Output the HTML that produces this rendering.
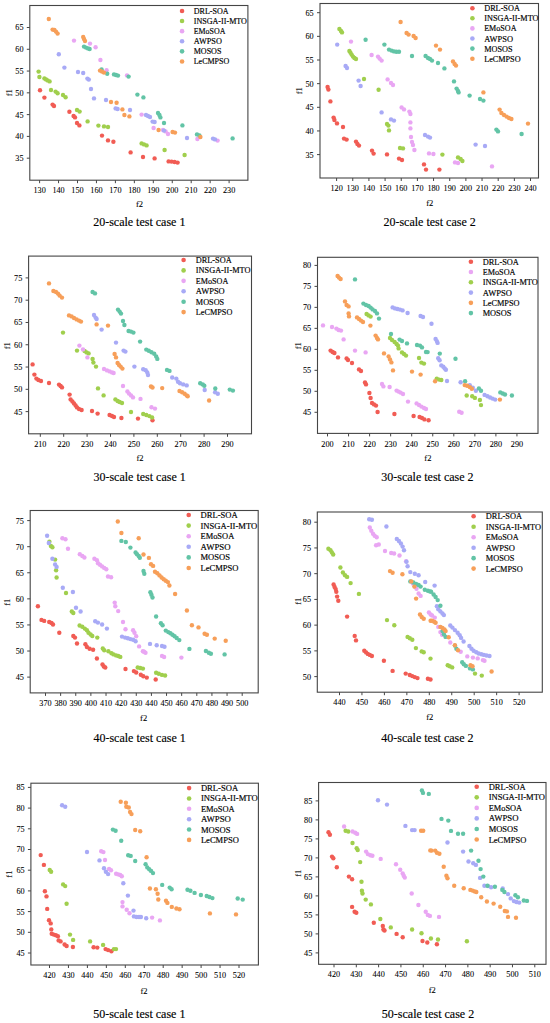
<!DOCTYPE html>
<html><head><meta charset="utf-8"><style>
html,body{margin:0;padding:0;background:#fff;}
svg{display:block;}
text{font-family:"Liberation Serif",serif;fill:#000;stroke:#000;stroke-width:0.08px;}
.lg{stroke-width:0.18px;}
.tt{stroke-width:0.15px;}
</style></head><body>
<svg width="550" height="1023" viewBox="0 0 550 1023">
<rect width="550" height="1023" fill="#fff"/>
<g><g fill="#F15C54"><circle cx="40" cy="90.2" r="2.2"/><circle cx="44.4" cy="97.6" r="2.2"/><circle cx="52.6" cy="104.6" r="2.2"/><circle cx="54" cy="106" r="2.2"/><circle cx="69.4" cy="111.8" r="2.2"/><circle cx="73.6" cy="116" r="2.2"/><circle cx="75" cy="117.4" r="2.2"/><circle cx="77" cy="123" r="2.2"/><circle cx="79.4" cy="125.4" r="2.2"/><circle cx="102" cy="135.6" r="2.2"/><circle cx="108" cy="140.4" r="2.2"/><circle cx="113.4" cy="141.8" r="2.2"/><circle cx="130.6" cy="152.4" r="2.2"/><circle cx="143" cy="157" r="2.2"/><circle cx="154.6" cy="158.4" r="2.2"/><circle cx="168.6" cy="161.4" r="2.2"/><circle cx="171.6" cy="161.6" r="2.2"/><circle cx="174.6" cy="162" r="2.2"/><circle cx="177.6" cy="162.6" r="2.2"/></g><g fill="#A0CF4D"><circle cx="38.6" cy="71.6" r="2.2"/><circle cx="39.4" cy="77" r="2.2"/><circle cx="44.4" cy="78.4" r="2.2"/><circle cx="46" cy="79.4" r="2.2"/><circle cx="47.6" cy="80.4" r="2.2"/><circle cx="49.6" cy="81.4" r="2.2"/><circle cx="51" cy="90" r="2.2"/><circle cx="55.6" cy="91.6" r="2.2"/><circle cx="57.6" cy="93.2" r="2.2"/><circle cx="63" cy="95" r="2.2"/><circle cx="65.6" cy="97.2" r="2.2"/><circle cx="77" cy="110" r="2.2"/><circle cx="79.6" cy="111.6" r="2.2"/><circle cx="87.6" cy="121.4" r="2.2"/><circle cx="98.4" cy="125.6" r="2.2"/><circle cx="104" cy="126.4" r="2.2"/><circle cx="108" cy="127" r="2.2"/><circle cx="141.6" cy="143.4" r="2.2"/><circle cx="144" cy="144.4" r="2.2"/><circle cx="146.6" cy="145.4" r="2.2"/><circle cx="164.6" cy="150" r="2.2"/><circle cx="184.6" cy="155" r="2.2"/></g><g fill="#E9A6F3"><circle cx="74" cy="40.6" r="2.2"/><circle cx="90" cy="43.6" r="2.2"/><circle cx="95.6" cy="47.2" r="2.2"/><circle cx="100.4" cy="60" r="2.2"/><circle cx="106.6" cy="70.2" r="2.2"/><circle cx="127" cy="75.4" r="2.2"/><circle cx="141.6" cy="114.6" r="2.2"/><circle cx="153.6" cy="128" r="2.2"/><circle cx="163" cy="130" r="2.2"/><circle cx="165.6" cy="131.4" r="2.2"/><circle cx="168" cy="134" r="2.2"/><circle cx="197.4" cy="139" r="2.2"/><circle cx="217.6" cy="140.6" r="2.2"/></g><g fill="#A8AAF6"><circle cx="58.8" cy="54.2" r="2.2"/><circle cx="64.4" cy="67.6" r="2.2"/><circle cx="78" cy="72" r="2.2"/><circle cx="83.2" cy="73" r="2.2"/><circle cx="87.4" cy="78.6" r="2.2"/><circle cx="88.8" cy="79.6" r="2.2"/><circle cx="91" cy="89" r="2.2"/><circle cx="94" cy="98.4" r="2.2"/><circle cx="106" cy="100" r="2.2"/><circle cx="115.6" cy="108.4" r="2.2"/><circle cx="117.6" cy="109" r="2.2"/><circle cx="130" cy="110" r="2.2"/><circle cx="146" cy="115" r="2.2"/><circle cx="148" cy="116" r="2.2"/><circle cx="150" cy="117" r="2.2"/><circle cx="152.6" cy="121.6" r="2.2"/><circle cx="154.6" cy="122" r="2.2"/><circle cx="164" cy="130.6" r="2.2"/><circle cx="187" cy="138" r="2.2"/><circle cx="213" cy="138.6" r="2.2"/><circle cx="215" cy="139.4" r="2.2"/></g><g fill="#62C4A6"><circle cx="84" cy="46.6" r="2.2"/><circle cx="86" cy="47.6" r="2.2"/><circle cx="88" cy="48.4" r="2.2"/><circle cx="89.6" cy="49" r="2.2"/><circle cx="101.6" cy="69.4" r="2.2"/><circle cx="107.2" cy="73.8" r="2.2"/><circle cx="114" cy="74.4" r="2.2"/><circle cx="116" cy="75" r="2.2"/><circle cx="118" cy="75.6" r="2.2"/><circle cx="128.6" cy="76.6" r="2.2"/><circle cx="137.4" cy="94.6" r="2.2"/><circle cx="143.4" cy="97.4" r="2.2"/><circle cx="158" cy="113" r="2.2"/><circle cx="159.4" cy="115" r="2.2"/><circle cx="160.4" cy="117.4" r="2.2"/><circle cx="164" cy="123" r="2.2"/><circle cx="182.4" cy="125.4" r="2.2"/><circle cx="197" cy="134.4" r="2.2"/><circle cx="199.4" cy="135.4" r="2.2"/><circle cx="232.6" cy="138.4" r="2.2"/></g><g fill="#F79F59"><circle cx="48.8" cy="19" r="2.2"/><circle cx="52.6" cy="29.6" r="2.2"/><circle cx="54.4" cy="30" r="2.2"/><circle cx="56" cy="31.6" r="2.2"/><circle cx="57.6" cy="33.6" r="2.2"/><circle cx="83.2" cy="37" r="2.2"/><circle cx="84" cy="39" r="2.2"/><circle cx="85" cy="41" r="2.2"/><circle cx="100" cy="70.6" r="2.2"/><circle cx="102" cy="71.6" r="2.2"/><circle cx="104" cy="72.6" r="2.2"/><circle cx="111" cy="102" r="2.2"/><circle cx="116.6" cy="102.8" r="2.2"/><circle cx="122.4" cy="109.4" r="2.2"/><circle cx="124.4" cy="115" r="2.2"/><circle cx="129.4" cy="116.4" r="2.2"/><circle cx="158.6" cy="130" r="2.2"/><circle cx="172.6" cy="132" r="2.2"/><circle cx="175" cy="132.6" r="2.2"/><circle cx="200.4" cy="137" r="2.2"/></g><rect x="29.8" y="5.5" width="218.1" height="174.7" fill="none" stroke="#454545" stroke-width="1.1"/><path d="M39.6 180.2v3M58.55 180.2v3M77.5 180.2v3M96.45 180.2v3M115.4 180.2v3M134.35 180.2v3M153.3 180.2v3M172.25 180.2v3M191.2 180.2v3M210.15 180.2v3M229.1 180.2v3M29.8 158.18h-3M29.8 136.4h-3M29.8 114.62h-3M29.8 92.84h-3M29.8 71.06h-3M29.8 49.28h-3M29.8 27.5h-3" stroke="#454545" stroke-width="1"/><g font-size="8.2" text-anchor="middle"><text x="39.6" y="193.3">130</text><text x="58.55" y="193.3">140</text><text x="77.5" y="193.3">150</text><text x="96.45" y="193.3">160</text><text x="115.4" y="193.3">170</text><text x="134.35" y="193.3">180</text><text x="153.3" y="193.3">190</text><text x="172.25" y="193.3">200</text><text x="191.2" y="193.3">210</text><text x="210.15" y="193.3">220</text><text x="229.1" y="193.3">230</text><text x="23.5" y="161.08" text-anchor="end">35</text><text x="23.5" y="139.3" text-anchor="end">40</text><text x="23.5" y="117.52" text-anchor="end">45</text><text x="23.5" y="95.74" text-anchor="end">50</text><text x="23.5" y="73.96" text-anchor="end">55</text><text x="23.5" y="52.18" text-anchor="end">60</text><text x="23.5" y="30.4" text-anchor="end">65</text></g><text x="139.5" y="207" font-size="8.5" text-anchor="middle">f2</text><text transform="translate(8.6 92.8) rotate(-90)" x="0" y="3" font-size="8.5" text-anchor="middle">f1</text><text class="tt" x="139.3" y="226.3" font-size="12" text-anchor="middle">20-scale test case 1</text><circle cx="182.05" cy="10.96" r="2.3" fill="#F15C54"/><text class="lg" x="193.7" y="13.96" font-size="9.1" textLength="34.95" lengthAdjust="spacingAndGlyphs">DRL-SOA</text><circle cx="182.05" cy="21.06" r="2.3" fill="#A0CF4D"/><text class="lg" x="193.7" y="24.06" font-size="9.1" textLength="53.26" lengthAdjust="spacingAndGlyphs">INSGA-II-MTO</text><circle cx="182.05" cy="31.16" r="2.3" fill="#E9A6F3"/><text class="lg" x="193.7" y="34.16" font-size="9.1" textLength="31.68" lengthAdjust="spacingAndGlyphs">EMoSOA</text><circle cx="182.05" cy="41.26" r="2.3" fill="#A8AAF6"/><text class="lg" x="193.7" y="44.26" font-size="9.1" textLength="28.21" lengthAdjust="spacingAndGlyphs">AWPSO</text><circle cx="182.05" cy="51.36" r="2.3" fill="#62C4A6"/><text class="lg" x="193.7" y="54.36" font-size="9.1" textLength="27.72" lengthAdjust="spacingAndGlyphs">MOSOS</text><circle cx="182.05" cy="61.46" r="2.3" fill="#F79F59"/><text class="lg" x="193.7" y="64.46" font-size="9.1" textLength="35.64" lengthAdjust="spacingAndGlyphs">LeCMPSO</text></g>
<g><g fill="#F15C54"><circle cx="327.6" cy="87" r="2.2"/><circle cx="328.4" cy="89.6" r="2.2"/><circle cx="330.4" cy="101.4" r="2.2"/><circle cx="333.6" cy="117.6" r="2.2"/><circle cx="334.4" cy="120" r="2.2"/><circle cx="337" cy="123.4" r="2.2"/><circle cx="343" cy="127" r="2.2"/><circle cx="344" cy="138.6" r="2.2"/><circle cx="346.6" cy="139.6" r="2.2"/><circle cx="356" cy="141.6" r="2.2"/><circle cx="357.4" cy="144" r="2.2"/><circle cx="359" cy="145.6" r="2.2"/><circle cx="372" cy="150.6" r="2.2"/><circle cx="373.6" cy="153.6" r="2.2"/><circle cx="387" cy="154.4" r="2.2"/><circle cx="399" cy="158.6" r="2.2"/><circle cx="402" cy="160" r="2.2"/><circle cx="424" cy="164.4" r="2.2"/><circle cx="426" cy="169.6" r="2.2"/><circle cx="439.4" cy="169.6" r="2.2"/></g><g fill="#A0CF4D"><circle cx="339.4" cy="29" r="2.2"/><circle cx="341" cy="31" r="2.2"/><circle cx="342" cy="32.4" r="2.2"/><circle cx="349.4" cy="51" r="2.2"/><circle cx="350.4" cy="52.6" r="2.2"/><circle cx="351.6" cy="54.6" r="2.2"/><circle cx="353" cy="56.6" r="2.2"/><circle cx="354.4" cy="58" r="2.2"/><circle cx="356" cy="59" r="2.2"/><circle cx="364" cy="79" r="2.2"/><circle cx="378.6" cy="89.8" r="2.2"/><circle cx="387" cy="124" r="2.2"/><circle cx="388.4" cy="125.6" r="2.2"/><circle cx="389" cy="130.4" r="2.2"/><circle cx="400" cy="148" r="2.2"/><circle cx="403" cy="148.4" r="2.2"/><circle cx="442.4" cy="154.6" r="2.2"/><circle cx="458" cy="157.4" r="2.2"/><circle cx="460.6" cy="159" r="2.2"/><circle cx="462.4" cy="161" r="2.2"/></g><g fill="#E9A6F3"><circle cx="351" cy="41.6" r="2.2"/><circle cx="371.6" cy="55" r="2.2"/><circle cx="378" cy="56.6" r="2.2"/><circle cx="379.6" cy="58.6" r="2.2"/><circle cx="381.6" cy="60.6" r="2.2"/><circle cx="387.6" cy="79.4" r="2.2"/><circle cx="391" cy="83" r="2.2"/><circle cx="393" cy="85" r="2.2"/><circle cx="401.6" cy="107.4" r="2.2"/><circle cx="404" cy="109.4" r="2.2"/><circle cx="409.4" cy="111.6" r="2.2"/><circle cx="410.4" cy="114" r="2.2"/><circle cx="410.4" cy="122.4" r="2.2"/><circle cx="410.4" cy="128.4" r="2.2"/><circle cx="411" cy="137" r="2.2"/><circle cx="412" cy="142" r="2.2"/><circle cx="413" cy="145" r="2.2"/><circle cx="414.4" cy="150" r="2.2"/><circle cx="429" cy="153.4" r="2.2"/><circle cx="433.4" cy="154" r="2.2"/><circle cx="455" cy="162.4" r="2.2"/><circle cx="458" cy="163" r="2.2"/><circle cx="492" cy="166.4" r="2.2"/></g><g fill="#A8AAF6"><circle cx="337.2" cy="44.6" r="2.2"/><circle cx="345.6" cy="66" r="2.2"/><circle cx="347" cy="68" r="2.2"/><circle cx="358.6" cy="80.6" r="2.2"/><circle cx="360.6" cy="86" r="2.2"/><circle cx="381.6" cy="112.4" r="2.2"/><circle cx="391" cy="119.4" r="2.2"/><circle cx="394" cy="120.6" r="2.2"/><circle cx="425" cy="135" r="2.2"/><circle cx="428" cy="136.6" r="2.2"/><circle cx="430" cy="137.6" r="2.2"/><circle cx="475.6" cy="144.6" r="2.2"/><circle cx="485" cy="146" r="2.2"/></g><g fill="#62C4A6"><circle cx="365.6" cy="39.8" r="2.2"/><circle cx="384.4" cy="44.6" r="2.2"/><circle cx="389" cy="49.6" r="2.2"/><circle cx="391.6" cy="50.6" r="2.2"/><circle cx="394" cy="51.4" r="2.2"/><circle cx="396.4" cy="51.8" r="2.2"/><circle cx="399" cy="51.8" r="2.2"/><circle cx="412" cy="56" r="2.2"/><circle cx="425.6" cy="56" r="2.2"/><circle cx="428" cy="58" r="2.2"/><circle cx="430" cy="59" r="2.2"/><circle cx="432" cy="60.6" r="2.2"/><circle cx="438" cy="63" r="2.2"/><circle cx="444.4" cy="68.4" r="2.2"/><circle cx="454" cy="81.4" r="2.2"/><circle cx="456.6" cy="88.6" r="2.2"/><circle cx="458" cy="91" r="2.2"/><circle cx="458.6" cy="92.4" r="2.2"/><circle cx="469.6" cy="95.6" r="2.2"/><circle cx="480" cy="99" r="2.2"/><circle cx="483.4" cy="100.6" r="2.2"/><circle cx="496.4" cy="129.6" r="2.2"/><circle cx="498" cy="131.4" r="2.2"/><circle cx="521.6" cy="134" r="2.2"/></g><g fill="#F79F59"><circle cx="400.6" cy="22" r="2.2"/><circle cx="406.6" cy="33" r="2.2"/><circle cx="408.6" cy="34.6" r="2.2"/><circle cx="413.6" cy="36" r="2.2"/><circle cx="415.6" cy="38" r="2.2"/><circle cx="436" cy="45.6" r="2.2"/><circle cx="440" cy="49.6" r="2.2"/><circle cx="453" cy="61.4" r="2.2"/><circle cx="454.6" cy="64" r="2.2"/><circle cx="456" cy="65.6" r="2.2"/><circle cx="483.4" cy="92.4" r="2.2"/><circle cx="499.6" cy="109.6" r="2.2"/><circle cx="501.4" cy="113" r="2.2"/><circle cx="504" cy="115" r="2.2"/><circle cx="506.6" cy="116.6" r="2.2"/><circle cx="509" cy="118" r="2.2"/><circle cx="511.4" cy="119" r="2.2"/><circle cx="528" cy="123.6" r="2.2"/></g><rect x="320" y="3.5" width="218.5" height="174.5" fill="none" stroke="#454545" stroke-width="1.1"/><path d="M336.6 178v3M352.76 178v3M368.92 178v3M385.08 178v3M401.24 178v3M417.4 178v3M433.56 178v3M449.72 178v3M465.88 178v3M482.04 178v3M498.2 178v3M514.36 178v3M530.52 178v3M320 154.6h-3M320 130.95h-3M320 107.3h-3M320 83.65h-3M320 60h-3M320 36.35h-3M320 12.7h-3" stroke="#454545" stroke-width="1"/><g font-size="8.2" text-anchor="middle"><text x="336.6" y="191.1">120</text><text x="352.76" y="191.1">130</text><text x="368.92" y="191.1">140</text><text x="385.08" y="191.1">150</text><text x="401.24" y="191.1">160</text><text x="417.4" y="191.1">170</text><text x="433.56" y="191.1">180</text><text x="449.72" y="191.1">190</text><text x="465.88" y="191.1">200</text><text x="482.04" y="191.1">210</text><text x="498.2" y="191.1">220</text><text x="514.36" y="191.1">230</text><text x="530.52" y="191.1">240</text><text x="313.7" y="157.5" text-anchor="end">35</text><text x="313.7" y="133.85" text-anchor="end">40</text><text x="313.7" y="110.2" text-anchor="end">45</text><text x="313.7" y="86.55" text-anchor="end">50</text><text x="313.7" y="62.9" text-anchor="end">55</text><text x="313.7" y="39.25" text-anchor="end">60</text><text x="313.7" y="15.6" text-anchor="end">65</text></g><text x="429.8" y="205.5" font-size="8.5" text-anchor="middle">f2</text><text transform="translate(299.2 90.8) rotate(-90)" x="0" y="3" font-size="8.5" text-anchor="middle">f1</text><text class="tt" x="429.6" y="226.3" font-size="12" text-anchor="middle">20-scale test case 2</text><circle cx="472.4" cy="8.2" r="2.3" fill="#F15C54"/><text class="lg" x="484.2" y="11.2" font-size="9.1" textLength="35.65" lengthAdjust="spacingAndGlyphs">DRL-SOA</text><circle cx="472.4" cy="18.3" r="2.3" fill="#A0CF4D"/><text class="lg" x="484.2" y="21.3" font-size="9.1" textLength="54.34" lengthAdjust="spacingAndGlyphs">INSGA-II-MTO</text><circle cx="472.4" cy="28.4" r="2.3" fill="#E9A6F3"/><text class="lg" x="484.2" y="31.4" font-size="9.1" textLength="32.32" lengthAdjust="spacingAndGlyphs">EMoSOA</text><circle cx="472.4" cy="38.5" r="2.3" fill="#A8AAF6"/><text class="lg" x="484.2" y="41.5" font-size="9.1" textLength="28.79" lengthAdjust="spacingAndGlyphs">AWPSO</text><circle cx="472.4" cy="48.6" r="2.3" fill="#62C4A6"/><text class="lg" x="484.2" y="51.6" font-size="9.1" textLength="28.28" lengthAdjust="spacingAndGlyphs">MOSOS</text><circle cx="472.4" cy="58.7" r="2.3" fill="#F79F59"/><text class="lg" x="484.2" y="61.7" font-size="9.1" textLength="36.36" lengthAdjust="spacingAndGlyphs">LeCMPSO</text></g>
<g><g fill="#F15C54"><circle cx="32.6" cy="364.4" r="2.2"/><circle cx="34.4" cy="374.6" r="2.2"/><circle cx="36.4" cy="378.6" r="2.2"/><circle cx="38.4" cy="380" r="2.2"/><circle cx="41" cy="381" r="2.2"/><circle cx="49" cy="383" r="2.2"/><circle cx="59" cy="384.6" r="2.2"/><circle cx="60.6" cy="386" r="2.2"/><circle cx="62" cy="387.4" r="2.2"/><circle cx="69.6" cy="394.6" r="2.2"/><circle cx="70.6" cy="399.4" r="2.2"/><circle cx="72.4" cy="401.4" r="2.2"/><circle cx="74" cy="403.4" r="2.2"/><circle cx="75.6" cy="405.4" r="2.2"/><circle cx="77" cy="407.4" r="2.2"/><circle cx="79" cy="409" r="2.2"/><circle cx="81.6" cy="410" r="2.2"/><circle cx="92" cy="411" r="2.2"/><circle cx="97.6" cy="413.6" r="2.2"/><circle cx="109.6" cy="415" r="2.2"/><circle cx="112" cy="416" r="2.2"/><circle cx="114" cy="417" r="2.2"/><circle cx="121.4" cy="418" r="2.2"/><circle cx="138" cy="418.6" r="2.2"/><circle cx="152.5" cy="420.2" r="2.2"/></g><g fill="#A0CF4D"><circle cx="63" cy="332.6" r="2.2"/><circle cx="77" cy="350.6" r="2.2"/><circle cx="84.6" cy="351" r="2.2"/><circle cx="86.6" cy="352.4" r="2.2"/><circle cx="88.6" cy="353.4" r="2.2"/><circle cx="92.6" cy="359" r="2.2"/><circle cx="93.4" cy="362.6" r="2.2"/><circle cx="96" cy="366.6" r="2.2"/><circle cx="98" cy="388.4" r="2.2"/><circle cx="103.6" cy="395.4" r="2.2"/><circle cx="115.4" cy="399.4" r="2.2"/><circle cx="117.6" cy="401" r="2.2"/><circle cx="119.6" cy="402" r="2.2"/><circle cx="122" cy="403" r="2.2"/><circle cx="131" cy="412" r="2.2"/><circle cx="143.2" cy="414" r="2.2"/><circle cx="146.3" cy="415" r="2.2"/><circle cx="149.4" cy="416.1" r="2.2"/><circle cx="152.1" cy="417.5" r="2.2"/></g><g fill="#E9A6F3"><circle cx="79.4" cy="345.6" r="2.2"/><circle cx="83" cy="349.4" r="2.2"/><circle cx="87.4" cy="357.4" r="2.2"/><circle cx="104" cy="369" r="2.2"/><circle cx="107" cy="370.4" r="2.2"/><circle cx="109.6" cy="371.4" r="2.2"/><circle cx="112" cy="372.4" r="2.2"/><circle cx="113.6" cy="373" r="2.2"/><circle cx="123" cy="386" r="2.2"/><circle cx="127.4" cy="391.4" r="2.2"/><circle cx="129" cy="393.6" r="2.2"/><circle cx="131" cy="395.4" r="2.2"/><circle cx="133" cy="397.4" r="2.2"/><circle cx="140.5" cy="398.9" r="2.2"/><circle cx="151.5" cy="407.2" r="2.2"/><circle cx="155" cy="408.6" r="2.2"/></g><g fill="#A8AAF6"><circle cx="94" cy="315" r="2.2"/><circle cx="95.6" cy="317.6" r="2.2"/><circle cx="96.6" cy="319" r="2.2"/><circle cx="101.6" cy="329.6" r="2.2"/><circle cx="116" cy="342.6" r="2.2"/><circle cx="123.6" cy="350.6" r="2.2"/><circle cx="125.4" cy="351.6" r="2.2"/><circle cx="134.4" cy="366.6" r="2.2"/><circle cx="143.2" cy="369.2" r="2.2"/><circle cx="145.7" cy="370.3" r="2.2"/><circle cx="147.3" cy="372.4" r="2.2"/><circle cx="148" cy="375" r="2.2"/><circle cx="172.2" cy="377.5" r="2.2"/><circle cx="176.3" cy="378.6" r="2.2"/><circle cx="178" cy="381.7" r="2.2"/><circle cx="180" cy="383.3" r="2.2"/><circle cx="183.2" cy="384.4" r="2.2"/><circle cx="186.7" cy="385.4" r="2.2"/><circle cx="204.7" cy="390" r="2.2"/><circle cx="215.1" cy="392.3" r="2.2"/><circle cx="217.8" cy="393.7" r="2.2"/></g><g fill="#62C4A6"><circle cx="92.6" cy="292" r="2.2"/><circle cx="95" cy="293.4" r="2.2"/><circle cx="118" cy="309.6" r="2.2"/><circle cx="119.6" cy="311.6" r="2.2"/><circle cx="121" cy="313.6" r="2.2"/><circle cx="123" cy="321" r="2.2"/><circle cx="124.4" cy="325" r="2.2"/><circle cx="128.6" cy="331" r="2.2"/><circle cx="131" cy="331.6" r="2.2"/><circle cx="133.4" cy="332.6" r="2.2"/><circle cx="140.1" cy="341.6" r="2.2"/><circle cx="146.3" cy="349.6" r="2.2"/><circle cx="148.8" cy="350.8" r="2.2"/><circle cx="151.5" cy="352.3" r="2.2"/><circle cx="154.2" cy="353.7" r="2.2"/><circle cx="156.2" cy="356.4" r="2.2"/><circle cx="157.3" cy="358.9" r="2.2"/><circle cx="167" cy="369.9" r="2.2"/><circle cx="169.5" cy="370.9" r="2.2"/><circle cx="200.2" cy="383.3" r="2.2"/><circle cx="202.7" cy="384.4" r="2.2"/><circle cx="204.3" cy="385.8" r="2.2"/><circle cx="215.3" cy="388.5" r="2.2"/><circle cx="229.8" cy="389.6" r="2.2"/><circle cx="232.9" cy="390.6" r="2.2"/></g><g fill="#F79F59"><circle cx="49" cy="283.4" r="2.2"/><circle cx="53.4" cy="291" r="2.2"/><circle cx="56" cy="292" r="2.2"/><circle cx="58" cy="293.6" r="2.2"/><circle cx="59.6" cy="295.6" r="2.2"/><circle cx="62" cy="297.6" r="2.2"/><circle cx="69" cy="315.4" r="2.2"/><circle cx="71.6" cy="316.4" r="2.2"/><circle cx="74" cy="318" r="2.2"/><circle cx="76.6" cy="319.4" r="2.2"/><circle cx="79" cy="320.6" r="2.2"/><circle cx="81" cy="321.6" r="2.2"/><circle cx="96.6" cy="324.4" r="2.2"/><circle cx="108" cy="325.6" r="2.2"/><circle cx="114.6" cy="354" r="2.2"/><circle cx="116" cy="357.4" r="2.2"/><circle cx="117.6" cy="363" r="2.2"/><circle cx="119" cy="365" r="2.2"/><circle cx="120.6" cy="366.6" r="2.2"/><circle cx="122.4" cy="368.6" r="2.2"/><circle cx="151" cy="386.5" r="2.2"/><circle cx="152.5" cy="387.5" r="2.2"/><circle cx="162.2" cy="388.1" r="2.2"/><circle cx="179.5" cy="391" r="2.2"/><circle cx="182.1" cy="392.3" r="2.2"/><circle cx="184.6" cy="393.7" r="2.2"/><circle cx="186.7" cy="395.4" r="2.2"/><circle cx="187.7" cy="396.2" r="2.2"/><circle cx="209.1" cy="400.5" r="2.2"/></g><rect x="28.6" y="256.1" width="222.9" height="177.7" fill="none" stroke="#454545" stroke-width="1.1"/><path d="M40.3 433.8v3M63.7 433.8v3M87.1 433.8v3M110.5 433.8v3M133.9 433.8v3M157.3 433.8v3M180.7 433.8v3M204.1 433.8v3M227.5 433.8v3M28.6 411.61h-3M28.6 389.32h-3M28.6 367.04h-3M28.6 344.75h-3M28.6 322.47h-3M28.6 300.19h-3M28.6 277.9h-3" stroke="#454545" stroke-width="1"/><g font-size="8.2" text-anchor="middle"><text x="40.3" y="446.9">210</text><text x="63.7" y="446.9">220</text><text x="87.1" y="446.9">230</text><text x="110.5" y="446.9">240</text><text x="133.9" y="446.9">250</text><text x="157.3" y="446.9">260</text><text x="180.7" y="446.9">270</text><text x="204.1" y="446.9">280</text><text x="227.5" y="446.9">290</text><text x="22.3" y="414.51" text-anchor="end">45</text><text x="22.3" y="392.22" text-anchor="end">50</text><text x="22.3" y="369.94" text-anchor="end">55</text><text x="22.3" y="347.65" text-anchor="end">60</text><text x="22.3" y="325.37" text-anchor="end">65</text><text x="22.3" y="303.08" text-anchor="end">70</text><text x="22.3" y="280.8" text-anchor="end">75</text></g><text x="140" y="461" font-size="8.5" text-anchor="middle">f2</text><text transform="translate(7.2 345.7) rotate(-90)" x="0" y="3" font-size="8.5" text-anchor="middle">f1</text><text class="tt" x="139.6" y="480.5" font-size="12" text-anchor="middle">30-scale test case 1</text><circle cx="183.6" cy="260" r="2.3" fill="#F15C54"/><text class="lg" x="195.8" y="263" font-size="9.1" textLength="35.83" lengthAdjust="spacingAndGlyphs">DRL-SOA</text><circle cx="183.6" cy="270.42" r="2.3" fill="#A0CF4D"/><text class="lg" x="195.8" y="273.42" font-size="9.1" textLength="54.61" lengthAdjust="spacingAndGlyphs">INSGA-II-MTO</text><circle cx="183.6" cy="280.84" r="2.3" fill="#E9A6F3"/><text class="lg" x="195.8" y="283.84" font-size="9.1" textLength="32.48" lengthAdjust="spacingAndGlyphs">EMoSOA</text><circle cx="183.6" cy="291.26" r="2.3" fill="#A8AAF6"/><text class="lg" x="195.8" y="294.26" font-size="9.1" textLength="28.93" lengthAdjust="spacingAndGlyphs">AWPSO</text><circle cx="183.6" cy="301.68" r="2.3" fill="#62C4A6"/><text class="lg" x="195.8" y="304.68" font-size="9.1" textLength="28.42" lengthAdjust="spacingAndGlyphs">MOSOS</text><circle cx="183.6" cy="312.1" r="2.3" fill="#F79F59"/><text class="lg" x="195.8" y="315.1" font-size="9.1" textLength="36.54" lengthAdjust="spacingAndGlyphs">LeCMPSO</text></g>
<g><g fill="#F15C54"><circle cx="330.6" cy="350.6" r="2.2"/><circle cx="332.6" cy="352" r="2.2"/><circle cx="334.4" cy="353" r="2.2"/><circle cx="338" cy="357.4" r="2.2"/><circle cx="346.6" cy="358.4" r="2.2"/><circle cx="348" cy="360" r="2.2"/><circle cx="352" cy="363" r="2.2"/><circle cx="359" cy="369.4" r="2.2"/><circle cx="361" cy="371" r="2.2"/><circle cx="365" cy="382.4" r="2.2"/><circle cx="366" cy="384.4" r="2.2"/><circle cx="369.4" cy="393" r="2.2"/><circle cx="370.6" cy="398" r="2.2"/><circle cx="372" cy="403" r="2.2"/><circle cx="374" cy="404.4" r="2.2"/><circle cx="376" cy="405.6" r="2.2"/><circle cx="377.6" cy="412" r="2.2"/><circle cx="394.4" cy="414" r="2.2"/><circle cx="413.6" cy="416" r="2.2"/><circle cx="419.6" cy="417" r="2.2"/><circle cx="422" cy="418" r="2.2"/><circle cx="424.4" cy="419.4" r="2.2"/><circle cx="428.6" cy="420.3" r="2.2"/></g><g fill="#A0CF4D"><circle cx="366.6" cy="314" r="2.2"/><circle cx="368.6" cy="315.4" r="2.2"/><circle cx="370.6" cy="316.6" r="2.2"/><circle cx="390" cy="338" r="2.2"/><circle cx="392" cy="340" r="2.2"/><circle cx="394.6" cy="342" r="2.2"/><circle cx="396.6" cy="344" r="2.2"/><circle cx="398" cy="345.6" r="2.2"/><circle cx="398.6" cy="348.4" r="2.2"/><circle cx="402" cy="352.4" r="2.2"/><circle cx="404" cy="354" r="2.2"/><circle cx="406" cy="355.6" r="2.2"/><circle cx="419" cy="358" r="2.2"/><circle cx="421.4" cy="362.6" r="2.2"/><circle cx="424" cy="363.6" r="2.2"/><circle cx="436.8" cy="378.6" r="2.2"/><circle cx="439.2" cy="379.6" r="2.2"/><circle cx="441.3" cy="380" r="2.2"/><circle cx="466.7" cy="395.5" r="2.2"/><circle cx="472.2" cy="396.3" r="2.2"/><circle cx="474.9" cy="397.9" r="2.2"/><circle cx="479.9" cy="400" r="2.2"/><circle cx="481" cy="405.1" r="2.2"/></g><g fill="#E9A6F3"><circle cx="323" cy="325.4" r="2.2"/><circle cx="332" cy="327" r="2.2"/><circle cx="336.4" cy="328.6" r="2.2"/><circle cx="338.6" cy="330" r="2.2"/><circle cx="341" cy="330.6" r="2.2"/><circle cx="343.6" cy="339.4" r="2.2"/><circle cx="355" cy="350.6" r="2.2"/><circle cx="365.6" cy="352.4" r="2.2"/><circle cx="382" cy="384" r="2.2"/><circle cx="383.4" cy="386.4" r="2.2"/><circle cx="389.6" cy="387" r="2.2"/><circle cx="396.6" cy="390.6" r="2.2"/><circle cx="398.6" cy="391.6" r="2.2"/><circle cx="400.6" cy="392.6" r="2.2"/><circle cx="403" cy="394" r="2.2"/><circle cx="408" cy="401.6" r="2.2"/><circle cx="416.6" cy="403.4" r="2.2"/><circle cx="419" cy="405" r="2.2"/><circle cx="421.4" cy="406.6" r="2.2"/><circle cx="424" cy="408" r="2.2"/><circle cx="426" cy="409" r="2.2"/><circle cx="459.2" cy="411.8" r="2.2"/><circle cx="461.6" cy="412.8" r="2.2"/></g><g fill="#A8AAF6"><circle cx="392.6" cy="307.4" r="2.2"/><circle cx="395" cy="308.4" r="2.2"/><circle cx="397.4" cy="309" r="2.2"/><circle cx="400" cy="309.6" r="2.2"/><circle cx="402.6" cy="310.4" r="2.2"/><circle cx="407.6" cy="313" r="2.2"/><circle cx="420.6" cy="316" r="2.2"/><circle cx="423" cy="317" r="2.2"/><circle cx="431.5" cy="323.8" r="2.2"/><circle cx="435.6" cy="338.9" r="2.2"/><circle cx="436.8" cy="341.1" r="2.2"/><circle cx="437.6" cy="342.9" r="2.2"/><circle cx="438.2" cy="358.2" r="2.2"/><circle cx="439.6" cy="360.3" r="2.2"/><circle cx="441.3" cy="365.4" r="2.2"/><circle cx="443.3" cy="366.8" r="2.2"/><circle cx="444.7" cy="368.4" r="2.2"/><circle cx="445.9" cy="369.8" r="2.2"/><circle cx="447" cy="381" r="2.2"/><circle cx="460.6" cy="382.3" r="2.2"/><circle cx="469.8" cy="385.3" r="2.2"/><circle cx="472.8" cy="387.8" r="2.2"/><circle cx="475.9" cy="390.8" r="2.2"/><circle cx="484.6" cy="394.9" r="2.2"/><circle cx="487.5" cy="396.3" r="2.2"/><circle cx="490.1" cy="397.5" r="2.2"/><circle cx="492.6" cy="398.6" r="2.2"/><circle cx="495.2" cy="399.6" r="2.2"/></g><g fill="#62C4A6"><circle cx="355" cy="279.4" r="2.2"/><circle cx="363.4" cy="303.6" r="2.2"/><circle cx="366" cy="305" r="2.2"/><circle cx="368.6" cy="306" r="2.2"/><circle cx="370.6" cy="307.6" r="2.2"/><circle cx="372.6" cy="309.4" r="2.2"/><circle cx="375" cy="311" r="2.2"/><circle cx="377" cy="313.4" r="2.2"/><circle cx="379" cy="318.6" r="2.2"/><circle cx="391" cy="334" r="2.2"/><circle cx="399.6" cy="339.6" r="2.2"/><circle cx="402" cy="341" r="2.2"/><circle cx="407" cy="343.4" r="2.2"/><circle cx="417" cy="345" r="2.2"/><circle cx="420" cy="345.6" r="2.2"/><circle cx="422" cy="347.4" r="2.2"/><circle cx="426" cy="352" r="2.2"/><circle cx="427.6" cy="352.1" r="2.2"/><circle cx="439.8" cy="353.6" r="2.2"/><circle cx="455.5" cy="358.8" r="2.2"/><circle cx="465.1" cy="381.2" r="2.2"/><circle cx="478.9" cy="388.4" r="2.2"/><circle cx="481" cy="390.8" r="2.2"/><circle cx="500.3" cy="392.4" r="2.2"/><circle cx="502.7" cy="393.5" r="2.2"/><circle cx="505" cy="394.5" r="2.2"/><circle cx="511.9" cy="395.5" r="2.2"/></g><g fill="#F79F59"><circle cx="337.6" cy="276" r="2.2"/><circle cx="339" cy="277.6" r="2.2"/><circle cx="340.6" cy="279" r="2.2"/><circle cx="345" cy="301.4" r="2.2"/><circle cx="346.6" cy="305" r="2.2"/><circle cx="348.6" cy="306.4" r="2.2"/><circle cx="348.6" cy="313.4" r="2.2"/><circle cx="349" cy="316.4" r="2.2"/><circle cx="357" cy="317.4" r="2.2"/><circle cx="359" cy="319" r="2.2"/><circle cx="361" cy="320.6" r="2.2"/><circle cx="363" cy="322" r="2.2"/><circle cx="370.4" cy="325.6" r="2.2"/><circle cx="375.6" cy="335.6" r="2.2"/><circle cx="377" cy="338" r="2.2"/><circle cx="378" cy="339.4" r="2.2"/><circle cx="384" cy="353.4" r="2.2"/><circle cx="388.6" cy="356.4" r="2.2"/><circle cx="390" cy="359.4" r="2.2"/><circle cx="391.4" cy="362.4" r="2.2"/><circle cx="393" cy="370.4" r="2.2"/><circle cx="412" cy="371.6" r="2.2"/><circle cx="420.6" cy="374.6" r="2.2"/><circle cx="435.1" cy="381.2" r="2.2"/><circle cx="464.7" cy="385.1" r="2.2"/><circle cx="467.1" cy="385.7" r="2.2"/><circle cx="469.8" cy="387.1" r="2.2"/><circle cx="471.8" cy="388.8" r="2.2"/><circle cx="499.9" cy="399.6" r="2.2"/></g><rect x="317.5" y="257.3" width="220.5" height="176.1" fill="none" stroke="#454545" stroke-width="1.1"/><path d="M327.5 433.4v3M348.55 433.4v3M369.6 433.4v3M390.65 433.4v3M411.7 433.4v3M432.75 433.4v3M453.8 433.4v3M474.85 433.4v3M495.9 433.4v3M516.95 433.4v3M317.5 412.29h-3M317.5 391.31h-3M317.5 370.32h-3M317.5 349.34h-3M317.5 328.35h-3M317.5 307.37h-3M317.5 286.38h-3M317.5 265.4h-3" stroke="#454545" stroke-width="1"/><g font-size="8.2" text-anchor="middle"><text x="327.5" y="446.5">200</text><text x="348.55" y="446.5">210</text><text x="369.6" y="446.5">220</text><text x="390.65" y="446.5">230</text><text x="411.7" y="446.5">240</text><text x="432.75" y="446.5">250</text><text x="453.8" y="446.5">260</text><text x="474.85" y="446.5">270</text><text x="495.9" y="446.5">280</text><text x="516.95" y="446.5">290</text><text x="311.2" y="415.19" text-anchor="end">45</text><text x="311.2" y="394.21" text-anchor="end">50</text><text x="311.2" y="373.22" text-anchor="end">55</text><text x="311.2" y="352.24" text-anchor="end">60</text><text x="311.2" y="331.25" text-anchor="end">65</text><text x="311.2" y="310.27" text-anchor="end">70</text><text x="311.2" y="289.28" text-anchor="end">75</text><text x="311.2" y="268.3" text-anchor="end">80</text></g><text x="427.9" y="460.5" font-size="8.5" text-anchor="middle">f2</text><text transform="translate(297.6 345.7) rotate(-90)" x="0" y="3" font-size="8.5" text-anchor="middle">f1</text><text class="tt" x="427.4" y="480.5" font-size="12" text-anchor="middle">30-scale test case 2</text><circle cx="470.9" cy="261.8" r="2.3" fill="#F15C54"/><text class="lg" x="482.7" y="264.8" font-size="9.1" textLength="36.18" lengthAdjust="spacingAndGlyphs">DRL-SOA</text><circle cx="470.9" cy="272.06" r="2.3" fill="#E9A6F3"/><text class="lg" x="482.7" y="275.06" font-size="9.1" textLength="32.8" lengthAdjust="spacingAndGlyphs">EMoSOA</text><circle cx="470.9" cy="282.32" r="2.3" fill="#A0CF4D"/><text class="lg" x="482.7" y="285.32" font-size="9.1" textLength="55.14" lengthAdjust="spacingAndGlyphs">INSGA-II-MTO</text><circle cx="470.9" cy="292.58" r="2.3" fill="#A8AAF6"/><text class="lg" x="482.7" y="295.58" font-size="9.1" textLength="29.21" lengthAdjust="spacingAndGlyphs">AWPSO</text><circle cx="470.9" cy="302.84" r="2.3" fill="#F79F59"/><text class="lg" x="482.7" y="305.84" font-size="9.1" textLength="36.9" lengthAdjust="spacingAndGlyphs">LeCMPSO</text><circle cx="470.9" cy="313.1" r="2.3" fill="#62C4A6"/><text class="lg" x="482.7" y="316.1" font-size="9.1" textLength="28.7" lengthAdjust="spacingAndGlyphs">MOSOS</text></g>
<g><g fill="#F15C54"><circle cx="37.9" cy="606.3" r="2.2"/><circle cx="41.5" cy="619.9" r="2.2"/><circle cx="44.2" cy="620.9" r="2.2"/><circle cx="49.2" cy="622" r="2.2"/><circle cx="51.5" cy="623" r="2.2"/><circle cx="53" cy="624.5" r="2.2"/><circle cx="59.3" cy="632.8" r="2.2"/><circle cx="73.3" cy="636" r="2.2"/><circle cx="75" cy="637.6" r="2.2"/><circle cx="77" cy="643.5" r="2.2"/><circle cx="85.4" cy="644.3" r="2.2"/><circle cx="86.9" cy="647" r="2.2"/><circle cx="89.6" cy="648.7" r="2.2"/><circle cx="93.1" cy="649.8" r="2.2"/><circle cx="96.9" cy="658.5" r="2.2"/><circle cx="102.5" cy="664.4" r="2.2"/><circle cx="103.8" cy="666.5" r="2.2"/><circle cx="105.3" cy="667.5" r="2.2"/><circle cx="125.5" cy="669" r="2.2"/><circle cx="133.9" cy="671.1" r="2.2"/><circle cx="136.2" cy="672.5" r="2.2"/><circle cx="140.8" cy="674.8" r="2.2"/><circle cx="143.3" cy="676.3" r="2.2"/><circle cx="146.8" cy="677.6" r="2.2"/><circle cx="155.7" cy="679.5" r="2.2"/></g><g fill="#A0CF4D"><circle cx="49.4" cy="541.8" r="2.2"/><circle cx="50.9" cy="546" r="2.2"/><circle cx="52.4" cy="547.2" r="2.2"/><circle cx="55.1" cy="559.6" r="2.2"/><circle cx="56.1" cy="570.2" r="2.2"/><circle cx="56.6" cy="577.5" r="2.2"/><circle cx="66" cy="593" r="2.2"/><circle cx="71.8" cy="611.5" r="2.2"/><circle cx="73.3" cy="613" r="2.2"/><circle cx="79.6" cy="625.5" r="2.2"/><circle cx="82.3" cy="626.8" r="2.2"/><circle cx="84.8" cy="628.6" r="2.2"/><circle cx="86.9" cy="630.3" r="2.2"/><circle cx="88.5" cy="632.8" r="2.2"/><circle cx="90.6" cy="634.5" r="2.2"/><circle cx="92.3" cy="636" r="2.2"/><circle cx="97.3" cy="637.6" r="2.2"/><circle cx="102.8" cy="648.5" r="2.2"/><circle cx="104.2" cy="650.2" r="2.2"/><circle cx="108.4" cy="651.2" r="2.2"/><circle cx="111.5" cy="653.3" r="2.2"/><circle cx="113.6" cy="654.4" r="2.2"/><circle cx="116.1" cy="655.4" r="2.2"/><circle cx="118.2" cy="656" r="2.2"/><circle cx="120.3" cy="656.9" r="2.2"/><circle cx="137.7" cy="667.5" r="2.2"/><circle cx="140.2" cy="668" r="2.2"/><circle cx="142.9" cy="668.6" r="2.2"/><circle cx="156.1" cy="672.8" r="2.2"/><circle cx="158.8" cy="673.8" r="2.2"/><circle cx="162" cy="674.9" r="2.2"/><circle cx="165.1" cy="675.5" r="2.2"/></g><g fill="#E9A6F3"><circle cx="62.4" cy="538.2" r="2.2"/><circle cx="65.5" cy="539.3" r="2.2"/><circle cx="68" cy="548.7" r="2.2"/><circle cx="79.8" cy="554.3" r="2.2"/><circle cx="82.3" cy="556" r="2.2"/><circle cx="84.4" cy="557.5" r="2.2"/><circle cx="94.4" cy="558.7" r="2.2"/><circle cx="96.9" cy="560.2" r="2.2"/><circle cx="98" cy="563.3" r="2.2"/><circle cx="100" cy="564.8" r="2.2"/><circle cx="102.1" cy="566.4" r="2.2"/><circle cx="104.2" cy="567.9" r="2.2"/><circle cx="106.3" cy="569.2" r="2.2"/><circle cx="108" cy="576.5" r="2.2"/><circle cx="111.1" cy="577.3" r="2.2"/><circle cx="114.7" cy="602.6" r="2.2"/><circle cx="115.3" cy="606.3" r="2.2"/><circle cx="118.2" cy="611.1" r="2.2"/><circle cx="123" cy="622" r="2.2"/><circle cx="125.5" cy="629.3" r="2.2"/><circle cx="133.1" cy="630.3" r="2.2"/><circle cx="134.5" cy="632.8" r="2.2"/><circle cx="136.2" cy="636.2" r="2.2"/><circle cx="139.1" cy="646.4" r="2.2"/><circle cx="142.9" cy="651.2" r="2.2"/><circle cx="144.1" cy="651.7" r="2.2"/><circle cx="145.5" cy="652.7" r="2.2"/><circle cx="162" cy="655.9" r="2.2"/><circle cx="164.1" cy="657" r="2.2"/><circle cx="181.4" cy="657.6" r="2.2"/></g><g fill="#A8AAF6"><circle cx="47.1" cy="535.7" r="2.2"/><circle cx="48.8" cy="543" r="2.2"/><circle cx="52.4" cy="558.7" r="2.2"/><circle cx="55.1" cy="564.4" r="2.2"/><circle cx="56.6" cy="566.9" r="2.2"/><circle cx="62.8" cy="587.8" r="2.2"/><circle cx="72.9" cy="592" r="2.2"/><circle cx="76" cy="607.7" r="2.2"/><circle cx="80.6" cy="611.5" r="2.2"/><circle cx="95.2" cy="621.3" r="2.2"/><circle cx="97.9" cy="622.6" r="2.2"/><circle cx="102.1" cy="624.5" r="2.2"/><circle cx="106.9" cy="628.6" r="2.2"/><circle cx="122" cy="636.6" r="2.2"/><circle cx="125.1" cy="637.6" r="2.2"/><circle cx="127.8" cy="638.3" r="2.2"/><circle cx="130.4" cy="639.1" r="2.2"/><circle cx="133.1" cy="639.7" r="2.2"/><circle cx="135.6" cy="641.2" r="2.2"/><circle cx="150" cy="643.9" r="2.2"/><circle cx="156.7" cy="645.3" r="2.2"/><circle cx="162" cy="646" r="2.2"/><circle cx="164.5" cy="646.8" r="2.2"/></g><g fill="#62C4A6"><circle cx="121.4" cy="540.9" r="2.2"/><circle cx="125.8" cy="542" r="2.2"/><circle cx="130.4" cy="547.6" r="2.2"/><circle cx="135.6" cy="552.4" r="2.2"/><circle cx="137" cy="554.3" r="2.2"/><circle cx="138.7" cy="556" r="2.2"/><circle cx="139.8" cy="557.7" r="2.2"/><circle cx="143.5" cy="571" r="2.2"/><circle cx="144.3" cy="573.8" r="2.2"/><circle cx="150.4" cy="592.3" r="2.2"/><circle cx="151.4" cy="594.8" r="2.2"/><circle cx="152.5" cy="597.5" r="2.2"/><circle cx="156.1" cy="616.5" r="2.2"/><circle cx="160.9" cy="623.2" r="2.2"/><circle cx="162.6" cy="625.3" r="2.2"/><circle cx="165.8" cy="630.6" r="2.2"/><circle cx="168.3" cy="632.1" r="2.2"/><circle cx="170.4" cy="633.3" r="2.2"/><circle cx="172.5" cy="634.8" r="2.2"/><circle cx="174.6" cy="636.3" r="2.2"/><circle cx="176.7" cy="638" r="2.2"/><circle cx="179.3" cy="640.1" r="2.2"/><circle cx="189.4" cy="648.9" r="2.2"/><circle cx="205.9" cy="651" r="2.2"/><circle cx="208.8" cy="652.7" r="2.2"/><circle cx="210.9" cy="653.8" r="2.2"/><circle cx="224.6" cy="654.4" r="2.2"/></g><g fill="#F79F59"><circle cx="117.8" cy="521.5" r="2.2"/><circle cx="121.4" cy="533" r="2.2"/><circle cx="138.7" cy="538.2" r="2.2"/><circle cx="143.5" cy="554.5" r="2.2"/><circle cx="148.9" cy="557.9" r="2.2"/><circle cx="151" cy="564.2" r="2.2"/><circle cx="153.1" cy="565.9" r="2.2"/><circle cx="155" cy="571.8" r="2.2"/><circle cx="157.3" cy="573.3" r="2.2"/><circle cx="159.5" cy="575.4" r="2.2"/><circle cx="161.6" cy="577.5" r="2.2"/><circle cx="163.7" cy="579.2" r="2.2"/><circle cx="165.8" cy="580.7" r="2.2"/><circle cx="167.9" cy="582.1" r="2.2"/><circle cx="169.4" cy="585.5" r="2.2"/><circle cx="175.1" cy="594" r="2.2"/><circle cx="186.9" cy="610.5" r="2.2"/><circle cx="191.9" cy="625.3" r="2.2"/><circle cx="198.5" cy="627.4" r="2.2"/><circle cx="204.6" cy="633.7" r="2.2"/><circle cx="206.9" cy="634.8" r="2.2"/><circle cx="214.7" cy="638.6" r="2.2"/><circle cx="225.7" cy="640.7" r="2.2"/></g><rect x="30.2" y="510.5" width="228" height="182.4" fill="none" stroke="#454545" stroke-width="1.1"/><path d="M45.5 692.9v3M60.63 692.9v3M75.76 692.9v3M90.89 692.9v3M106.02 692.9v3M121.15 692.9v3M136.28 692.9v3M151.41 692.9v3M166.54 692.9v3M181.67 692.9v3M196.8 692.9v3M211.93 692.9v3M227.06 692.9v3M242.19 692.9v3M30.2 677.11h-3M30.2 651.02h-3M30.2 624.94h-3M30.2 598.86h-3M30.2 572.77h-3M30.2 546.69h-3M30.2 520.6h-3" stroke="#454545" stroke-width="1"/><g font-size="8.2" text-anchor="middle"><text x="45.5" y="706">370</text><text x="60.63" y="706">380</text><text x="75.76" y="706">390</text><text x="90.89" y="706">400</text><text x="106.02" y="706">410</text><text x="121.15" y="706">420</text><text x="136.28" y="706">430</text><text x="151.41" y="706">440</text><text x="166.54" y="706">450</text><text x="181.67" y="706">460</text><text x="196.8" y="706">470</text><text x="211.93" y="706">480</text><text x="227.06" y="706">490</text><text x="242.19" y="706">500</text><text x="23.9" y="680.01" text-anchor="end">45</text><text x="23.9" y="653.92" text-anchor="end">50</text><text x="23.9" y="627.84" text-anchor="end">55</text><text x="23.9" y="601.75" text-anchor="end">60</text><text x="23.9" y="575.67" text-anchor="end">65</text><text x="23.9" y="549.59" text-anchor="end">70</text><text x="23.9" y="523.5" text-anchor="end">75</text></g><text x="143.6" y="720.5" font-size="8.5" text-anchor="middle">f2</text><text transform="translate(7.2 602.2) rotate(-90)" x="0" y="3" font-size="8.5" text-anchor="middle">f1</text><text class="tt" x="139.6" y="742" font-size="12" text-anchor="middle">40-scale test case 1</text><circle cx="188.7" cy="515" r="2.3" fill="#F15C54"/><text class="lg" x="200.5" y="518" font-size="9.1" textLength="37.24" lengthAdjust="spacingAndGlyphs">DRL-SOA</text><circle cx="188.7" cy="525.6" r="2.3" fill="#A0CF4D"/><text class="lg" x="200.5" y="528.6" font-size="9.1" textLength="56.76" lengthAdjust="spacingAndGlyphs">INSGA-II-MTO</text><circle cx="188.7" cy="536.2" r="2.3" fill="#E9A6F3"/><text class="lg" x="200.5" y="539.2" font-size="9.1" textLength="33.76" lengthAdjust="spacingAndGlyphs">EMoSOA</text><circle cx="188.7" cy="546.8" r="2.3" fill="#A8AAF6"/><text class="lg" x="200.5" y="549.8" font-size="9.1" textLength="30.07" lengthAdjust="spacingAndGlyphs">AWPSO</text><circle cx="188.7" cy="557.4" r="2.3" fill="#62C4A6"/><text class="lg" x="200.5" y="560.4" font-size="9.1" textLength="29.54" lengthAdjust="spacingAndGlyphs">MOSOS</text><circle cx="188.7" cy="568" r="2.3" fill="#F79F59"/><text class="lg" x="200.5" y="571" font-size="9.1" textLength="37.98" lengthAdjust="spacingAndGlyphs">LeCMPSO</text></g>
<g><g fill="#F15C54"><circle cx="333.6" cy="584.5" r="2.2"/><circle cx="334.6" cy="587" r="2.2"/><circle cx="335.7" cy="589.1" r="2.2"/><circle cx="336.3" cy="591.8" r="2.2"/><circle cx="337.1" cy="596.6" r="2.2"/><circle cx="338.3" cy="600.7" r="2.2"/><circle cx="347.1" cy="616.6" r="2.2"/><circle cx="354.7" cy="635.9" r="2.2"/><circle cx="356" cy="640.4" r="2.2"/><circle cx="364.3" cy="650.8" r="2.2"/><circle cx="366.1" cy="652.4" r="2.2"/><circle cx="367.8" cy="653.9" r="2.2"/><circle cx="369.8" cy="654.9" r="2.2"/><circle cx="371.9" cy="656" r="2.2"/><circle cx="383.9" cy="660.7" r="2.2"/><circle cx="392.6" cy="670.9" r="2.2"/><circle cx="405.7" cy="673.6" r="2.2"/><circle cx="409.8" cy="675" r="2.2"/><circle cx="412.3" cy="676.1" r="2.2"/><circle cx="414.8" cy="677.1" r="2.2"/><circle cx="417.5" cy="678.1" r="2.2"/><circle cx="427.9" cy="678.8" r="2.2"/><circle cx="430.5" cy="679.5" r="2.2"/></g><g fill="#A0CF4D"><circle cx="328.4" cy="548.7" r="2.2"/><circle cx="330.5" cy="550.3" r="2.2"/><circle cx="331.9" cy="552.4" r="2.2"/><circle cx="333.2" cy="554.5" r="2.2"/><circle cx="340.4" cy="567.5" r="2.2"/><circle cx="342.9" cy="572.5" r="2.2"/><circle cx="345" cy="575.2" r="2.2"/><circle cx="347.1" cy="576.9" r="2.2"/><circle cx="350.6" cy="583.1" r="2.2"/><circle cx="358.9" cy="593.9" r="2.2"/><circle cx="387" cy="620.1" r="2.2"/><circle cx="394.3" cy="625.3" r="2.2"/><circle cx="407.6" cy="636.9" r="2.2"/><circle cx="409.8" cy="638.3" r="2.2"/><circle cx="412.3" cy="639.8" r="2.2"/><circle cx="415.9" cy="648.1" r="2.2"/><circle cx="421.7" cy="651.4" r="2.2"/><circle cx="423.7" cy="652.2" r="2.2"/><circle cx="430.5" cy="658.6" r="2.2"/><circle cx="447.7" cy="665.3" r="2.2"/><circle cx="449.7" cy="666.3" r="2.2"/><circle cx="452.2" cy="667.4" r="2.2"/><circle cx="475" cy="673.6" r="2.2"/><circle cx="481.8" cy="675.6" r="2.2"/></g><g fill="#E9A6F3"><circle cx="369.8" cy="527.5" r="2.2"/><circle cx="371.3" cy="530.7" r="2.2"/><circle cx="373" cy="533.8" r="2.2"/><circle cx="374.6" cy="535.8" r="2.2"/><circle cx="376.7" cy="537.3" r="2.2"/><circle cx="376.1" cy="545.2" r="2.2"/><circle cx="378.8" cy="544.5" r="2.2"/><circle cx="385" cy="551" r="2.2"/><circle cx="391.2" cy="553" r="2.2"/><circle cx="394.1" cy="553.5" r="2.2"/><circle cx="399.5" cy="555.5" r="2.2"/><circle cx="406.1" cy="561.3" r="2.2"/><circle cx="412.8" cy="583.5" r="2.2"/><circle cx="414.8" cy="586.6" r="2.2"/><circle cx="416.5" cy="588.7" r="2.2"/><circle cx="418.6" cy="593.5" r="2.2"/><circle cx="420.6" cy="595.9" r="2.2"/><circle cx="428.9" cy="612.4" r="2.2"/><circle cx="430.6" cy="614.5" r="2.2"/><circle cx="432.1" cy="615.5" r="2.2"/><circle cx="434.8" cy="617.6" r="2.2"/><circle cx="438.3" cy="626.9" r="2.2"/><circle cx="440.4" cy="632.1" r="2.2"/><circle cx="442.1" cy="634.8" r="2.2"/><circle cx="450.3" cy="642.5" r="2.2"/><circle cx="460.7" cy="651.8" r="2.2"/><circle cx="467.3" cy="656.4" r="2.2"/><circle cx="472.9" cy="657.6" r="2.2"/><circle cx="477.7" cy="658.4" r="2.2"/><circle cx="482.9" cy="660.1" r="2.2"/><circle cx="484.5" cy="660.7" r="2.2"/></g><g fill="#A8AAF6"><circle cx="369.2" cy="519.3" r="2.2"/><circle cx="371.9" cy="519.7" r="2.2"/><circle cx="386.4" cy="526.5" r="2.2"/><circle cx="396.8" cy="538.9" r="2.2"/><circle cx="398.9" cy="541" r="2.2"/><circle cx="400.9" cy="543.5" r="2.2"/><circle cx="402.6" cy="546.6" r="2.2"/><circle cx="404" cy="550.3" r="2.2"/><circle cx="406.5" cy="561.7" r="2.2"/><circle cx="407.6" cy="566.3" r="2.2"/><circle cx="410.3" cy="572.1" r="2.2"/><circle cx="414.8" cy="573.8" r="2.2"/><circle cx="418.6" cy="575.2" r="2.2"/><circle cx="425.2" cy="582" r="2.2"/><circle cx="434.6" cy="585.6" r="2.2"/><circle cx="436.9" cy="606.2" r="2.2"/><circle cx="438.3" cy="609.3" r="2.2"/><circle cx="440.4" cy="611.4" r="2.2"/><circle cx="442.5" cy="613.5" r="2.2"/><circle cx="443.9" cy="615.1" r="2.2"/><circle cx="450.3" cy="625.5" r="2.2"/><circle cx="452.4" cy="627.6" r="2.2"/><circle cx="454.9" cy="630.1" r="2.2"/><circle cx="457.6" cy="632.7" r="2.2"/><circle cx="459.7" cy="635.2" r="2.2"/><circle cx="461.1" cy="637.9" r="2.2"/><circle cx="463.6" cy="641.5" r="2.2"/><circle cx="469.4" cy="646" r="2.2"/><circle cx="471.5" cy="648.7" r="2.2"/><circle cx="473.6" cy="650.8" r="2.2"/><circle cx="476.3" cy="652.2" r="2.2"/><circle cx="478.7" cy="653.5" r="2.2"/><circle cx="481.4" cy="654.3" r="2.2"/><circle cx="483.9" cy="654.9" r="2.2"/><circle cx="486.6" cy="655.5" r="2.2"/><circle cx="489.5" cy="656" r="2.2"/></g><g fill="#62C4A6"><circle cx="410.3" cy="581.4" r="2.2"/><circle cx="413.4" cy="582.5" r="2.2"/><circle cx="416.1" cy="583.9" r="2.2"/><circle cx="418.6" cy="585" r="2.2"/><circle cx="420.6" cy="586.6" r="2.2"/><circle cx="424.8" cy="589.7" r="2.2"/><circle cx="427.9" cy="590.8" r="2.2"/><circle cx="430" cy="591.4" r="2.2"/><circle cx="431.1" cy="591.8" r="2.2"/><circle cx="433.6" cy="594.5" r="2.2"/><circle cx="435.6" cy="597" r="2.2"/><circle cx="437.7" cy="600.1" r="2.2"/><circle cx="440.4" cy="605.8" r="2.2"/><circle cx="442.5" cy="631.1" r="2.2"/><circle cx="443.9" cy="634.2" r="2.2"/><circle cx="445.6" cy="636.9" r="2.2"/><circle cx="454.9" cy="645.6" r="2.2"/><circle cx="456.4" cy="648.7" r="2.2"/><circle cx="462.2" cy="662.2" r="2.2"/><circle cx="463.8" cy="664.2" r="2.2"/><circle cx="465.9" cy="665.9" r="2.2"/><circle cx="470" cy="668.4" r="2.2"/><circle cx="472.9" cy="669.4" r="2.2"/></g><g fill="#F79F59"><circle cx="390" cy="571.1" r="2.2"/><circle cx="392.6" cy="572.7" r="2.2"/><circle cx="402.4" cy="574.2" r="2.2"/><circle cx="411.3" cy="581.4" r="2.2"/><circle cx="414.4" cy="586.6" r="2.2"/><circle cx="416.1" cy="598.6" r="2.2"/><circle cx="420" cy="614.5" r="2.2"/><circle cx="421.7" cy="617" r="2.2"/><circle cx="423.7" cy="618.7" r="2.2"/><circle cx="430.6" cy="620.7" r="2.2"/><circle cx="432.1" cy="620.7" r="2.2"/><circle cx="434.2" cy="621.8" r="2.2"/><circle cx="435.6" cy="622.8" r="2.2"/><circle cx="440.4" cy="626.9" r="2.2"/><circle cx="442.5" cy="628" r="2.2"/><circle cx="444.5" cy="629.4" r="2.2"/><circle cx="445.6" cy="631.1" r="2.2"/><circle cx="448.7" cy="637.3" r="2.2"/><circle cx="454.9" cy="645.2" r="2.2"/><circle cx="458" cy="650.2" r="2.2"/><circle cx="470.5" cy="665.3" r="2.2"/><circle cx="472.5" cy="666.3" r="2.2"/><circle cx="491.6" cy="671.5" r="2.2"/></g><rect x="317.3" y="512" width="225" height="180.2" fill="none" stroke="#454545" stroke-width="1.1"/><path d="M339.5 692.2v3M361.95 692.2v3M384.4 692.2v3M406.85 692.2v3M429.3 692.2v3M451.75 692.2v3M474.2 692.2v3M496.65 692.2v3M519.1 692.2v3M317.3 676.61h-3M317.3 650.88h-3M317.3 625.14h-3M317.3 599.41h-3M317.3 573.67h-3M317.3 547.94h-3M317.3 522.2h-3" stroke="#454545" stroke-width="1"/><g font-size="8.2" text-anchor="middle"><text x="339.5" y="705.3">440</text><text x="361.95" y="705.3">450</text><text x="384.4" y="705.3">460</text><text x="406.85" y="705.3">470</text><text x="429.3" y="705.3">480</text><text x="451.75" y="705.3">490</text><text x="474.2" y="705.3">500</text><text x="496.65" y="705.3">510</text><text x="519.1" y="705.3">520</text><text x="311" y="679.51" text-anchor="end">50</text><text x="311" y="653.77" text-anchor="end">55</text><text x="311" y="628.04" text-anchor="end">60</text><text x="311" y="602.31" text-anchor="end">65</text><text x="311" y="576.57" text-anchor="end">70</text><text x="311" y="550.84" text-anchor="end">75</text><text x="311" y="525.1" text-anchor="end">80</text></g><text x="429.8" y="719.7" font-size="8.5" text-anchor="middle">f2</text><text transform="translate(297.5 601.3) rotate(-90)" x="0" y="3" font-size="8.5" text-anchor="middle">f1</text><text class="tt" x="427.4" y="742" font-size="12" text-anchor="middle">40-scale test case 2</text><circle cx="473.6" cy="516.3" r="2.3" fill="#F15C54"/><text class="lg" x="485.8" y="519.3" font-size="9.1" textLength="36.18" lengthAdjust="spacingAndGlyphs">DRL-SOA</text><circle cx="473.6" cy="526.76" r="2.3" fill="#A0CF4D"/><text class="lg" x="485.8" y="529.76" font-size="9.1" textLength="55.14" lengthAdjust="spacingAndGlyphs">INSGA-II-MTO</text><circle cx="473.6" cy="537.22" r="2.3" fill="#E9A6F3"/><text class="lg" x="485.8" y="540.22" font-size="9.1" textLength="32.8" lengthAdjust="spacingAndGlyphs">EMoSOA</text><circle cx="473.6" cy="547.68" r="2.3" fill="#A8AAF6"/><text class="lg" x="485.8" y="550.68" font-size="9.1" textLength="29.21" lengthAdjust="spacingAndGlyphs">AWPSO</text><circle cx="473.6" cy="558.14" r="2.3" fill="#62C4A6"/><text class="lg" x="485.8" y="561.14" font-size="9.1" textLength="28.7" lengthAdjust="spacingAndGlyphs">MOSOS</text><circle cx="473.6" cy="568.6" r="2.3" fill="#F79F59"/><text class="lg" x="485.8" y="571.6" font-size="9.1" textLength="36.9" lengthAdjust="spacingAndGlyphs">LeCMPSO</text></g>
<g><g fill="#F15C54"><circle cx="40.7" cy="855.1" r="2.2"/><circle cx="43.9" cy="864.9" r="2.2"/><circle cx="44.9" cy="891.2" r="2.2"/><circle cx="46.5" cy="896.4" r="2.2"/><circle cx="47.2" cy="908.9" r="2.2"/><circle cx="49" cy="920.3" r="2.2"/><circle cx="50.7" cy="923.4" r="2.2"/><circle cx="51.3" cy="929.4" r="2.2"/><circle cx="51.7" cy="933.7" r="2.2"/><circle cx="53.8" cy="934.6" r="2.2"/><circle cx="55.9" cy="935.2" r="2.2"/><circle cx="57.9" cy="936.2" r="2.2"/><circle cx="58.6" cy="940.4" r="2.2"/><circle cx="60.6" cy="941.4" r="2.2"/><circle cx="64.6" cy="944.5" r="2.2"/><circle cx="66.6" cy="946" r="2.2"/><circle cx="72.9" cy="947" r="2.2"/><circle cx="93.6" cy="947.2" r="2.2"/><circle cx="97.3" cy="947.6" r="2.2"/><circle cx="105.6" cy="949.1" r="2.2"/><circle cx="108.1" cy="950.1" r="2.2"/><circle cx="111.4" cy="951.3" r="2.2"/></g><g fill="#A0CF4D"><circle cx="49.7" cy="870" r="2.2"/><circle cx="51.1" cy="871.7" r="2.2"/><circle cx="63.1" cy="884.4" r="2.2"/><circle cx="65.2" cy="886.1" r="2.2"/><circle cx="66.6" cy="903.7" r="2.2"/><circle cx="70" cy="934.6" r="2.2"/><circle cx="73.1" cy="939.9" r="2.2"/><circle cx="90.1" cy="941.4" r="2.2"/><circle cx="103.1" cy="944.9" r="2.2"/><circle cx="113.9" cy="949.1" r="2.2"/><circle cx="116" cy="949.1" r="2.2"/></g><g fill="#E9A6F3"><circle cx="101.2" cy="851.2" r="2.2"/><circle cx="103.4" cy="852.1" r="2.2"/><circle cx="105" cy="860" r="2.2"/><circle cx="109.1" cy="869" r="2.2"/><circle cx="111" cy="870.3" r="2.2"/><circle cx="116.1" cy="873.7" r="2.2"/><circle cx="118.3" cy="874.4" r="2.2"/><circle cx="120.2" cy="875" r="2.2"/><circle cx="121.8" cy="876.3" r="2.2"/><circle cx="122.5" cy="902.1" r="2.2"/><circle cx="122.5" cy="906.4" r="2.2"/><circle cx="126.7" cy="909.7" r="2.2"/><circle cx="129.5" cy="913.2" r="2.2"/><circle cx="152.1" cy="917.6" r="2.2"/><circle cx="159.9" cy="920.4" r="2.2"/></g><g fill="#A8AAF6"><circle cx="62.1" cy="805.2" r="2.2"/><circle cx="65.2" cy="806.8" r="2.2"/><circle cx="87" cy="852" r="2.2"/><circle cx="99.5" cy="860.4" r="2.2"/><circle cx="104" cy="868.3" r="2.2"/><circle cx="105.9" cy="871.8" r="2.2"/><circle cx="108.1" cy="874.1" r="2.2"/><circle cx="123.3" cy="883.3" r="2.2"/><circle cx="127.9" cy="895.6" r="2.2"/><circle cx="133.5" cy="910.6" r="2.2"/><circle cx="133.9" cy="916.4" r="2.2"/><circle cx="136.5" cy="917" r="2.2"/><circle cx="139" cy="917" r="2.2"/><circle cx="140.9" cy="917" r="2.2"/><circle cx="146.2" cy="918.3" r="2.2"/></g><g fill="#62C4A6"><circle cx="112.9" cy="829.6" r="2.2"/><circle cx="115.6" cy="830.7" r="2.2"/><circle cx="121.2" cy="840.8" r="2.2"/><circle cx="128.2" cy="855.3" r="2.2"/><circle cx="130.7" cy="855.9" r="2.2"/><circle cx="135.2" cy="861" r="2.2"/><circle cx="145.6" cy="864.2" r="2.2"/><circle cx="147.3" cy="867.4" r="2.2"/><circle cx="149.2" cy="869.3" r="2.2"/><circle cx="151.1" cy="870.9" r="2.2"/><circle cx="153" cy="873.1" r="2.2"/><circle cx="162.2" cy="884.9" r="2.2"/><circle cx="169.7" cy="887.6" r="2.2"/><circle cx="171.6" cy="889.3" r="2.2"/><circle cx="187.5" cy="889.7" r="2.2"/><circle cx="190.4" cy="890.8" r="2.2"/><circle cx="194.6" cy="892.9" r="2.2"/><circle cx="200.9" cy="895" r="2.2"/><circle cx="206.7" cy="896" r="2.2"/><circle cx="209.4" cy="897" r="2.2"/><circle cx="212.4" cy="898.1" r="2.2"/><circle cx="237.7" cy="898.5" r="2.2"/><circle cx="242.7" cy="899.6" r="2.2"/></g><g fill="#F79F59"><circle cx="120.7" cy="801.7" r="2.2"/><circle cx="125.9" cy="802.7" r="2.2"/><circle cx="126.3" cy="806.8" r="2.2"/><circle cx="128.8" cy="807.5" r="2.2"/><circle cx="130.1" cy="812" r="2.2"/><circle cx="131.5" cy="814.1" r="2.2"/><circle cx="135.2" cy="830" r="2.2"/><circle cx="140.2" cy="831.3" r="2.2"/><circle cx="146.6" cy="857.2" r="2.2"/><circle cx="149.9" cy="888.5" r="2.2"/><circle cx="155.9" cy="889.2" r="2.2"/><circle cx="157.6" cy="893.7" r="2.2"/><circle cx="158.3" cy="899.5" r="2.2"/><circle cx="166" cy="900.8" r="2.2"/><circle cx="167.4" cy="902.9" r="2.2"/><circle cx="171.8" cy="906.9" r="2.2"/><circle cx="176.4" cy="908.5" r="2.2"/><circle cx="179.5" cy="909.2" r="2.2"/><circle cx="209.9" cy="913.4" r="2.2"/><circle cx="236" cy="914.4" r="2.2"/></g><rect x="30.9" y="783.2" width="227.5" height="181.8" fill="none" stroke="#454545" stroke-width="1.1"/><path d="M49.5 965v3M68.45 965v3M87.4 965v3M106.35 965v3M125.3 965v3M144.25 965v3M163.2 965v3M182.15 965v3M201.1 965v3M220.05 965v3M239 965v3M30.9 953h-3M30.9 932.3h-3M30.9 911.6h-3M30.9 890.9h-3M30.9 870.2h-3M30.9 849.5h-3M30.9 828.8h-3M30.9 808.1h-3M30.9 787.4h-3" stroke="#454545" stroke-width="1"/><g font-size="8.2" text-anchor="middle"><text x="49.5" y="978.1">420</text><text x="68.45" y="978.1">430</text><text x="87.4" y="978.1">440</text><text x="106.35" y="978.1">450</text><text x="125.3" y="978.1">460</text><text x="144.25" y="978.1">470</text><text x="163.2" y="978.1">480</text><text x="182.15" y="978.1">490</text><text x="201.1" y="978.1">500</text><text x="220.05" y="978.1">510</text><text x="239" y="978.1">520</text><text x="24.6" y="955.9" text-anchor="end">45</text><text x="24.6" y="935.2" text-anchor="end">50</text><text x="24.6" y="914.5" text-anchor="end">55</text><text x="24.6" y="893.8" text-anchor="end">60</text><text x="24.6" y="873.1" text-anchor="end">65</text><text x="24.6" y="852.4" text-anchor="end">70</text><text x="24.6" y="831.7" text-anchor="end">75</text><text x="24.6" y="811" text-anchor="end">80</text><text x="24.6" y="790.3" text-anchor="end">85</text></g><text x="144" y="994" font-size="8.5" text-anchor="middle">f2</text><text transform="translate(8.6 874.1) rotate(-90)" x="0" y="3" font-size="8.5" text-anchor="middle">f1</text><text class="tt" x="139.3" y="1017.8" font-size="12" text-anchor="middle">50-scale test case 1</text><circle cx="189.1" cy="788.1" r="2.3" fill="#F15C54"/><text class="lg" x="200.9" y="791.1" font-size="9.1" textLength="37.24" lengthAdjust="spacingAndGlyphs">DRL-SOA</text><circle cx="189.1" cy="798.46" r="2.3" fill="#A0CF4D"/><text class="lg" x="200.9" y="801.46" font-size="9.1" textLength="56.76" lengthAdjust="spacingAndGlyphs">INSGA-II-MTO</text><circle cx="189.1" cy="808.82" r="2.3" fill="#E9A6F3"/><text class="lg" x="200.9" y="811.82" font-size="9.1" textLength="33.76" lengthAdjust="spacingAndGlyphs">EMoSOA</text><circle cx="189.1" cy="819.18" r="2.3" fill="#A8AAF6"/><text class="lg" x="200.9" y="822.18" font-size="9.1" textLength="30.07" lengthAdjust="spacingAndGlyphs">AWPSO</text><circle cx="189.1" cy="829.54" r="2.3" fill="#62C4A6"/><text class="lg" x="200.9" y="832.54" font-size="9.1" textLength="29.54" lengthAdjust="spacingAndGlyphs">MOSOS</text><circle cx="189.1" cy="839.9" r="2.3" fill="#F79F59"/><text class="lg" x="200.9" y="842.9" font-size="9.1" textLength="37.98" lengthAdjust="spacingAndGlyphs">LeCMPSO</text></g>
<g><g fill="#F15C54"><circle cx="328.5" cy="832.2" r="2.2"/><circle cx="329.9" cy="834.7" r="2.2"/><circle cx="332" cy="856.6" r="2.2"/><circle cx="333.3" cy="858.3" r="2.2"/><circle cx="336.8" cy="867.3" r="2.2"/><circle cx="348.9" cy="876.6" r="2.2"/><circle cx="352.1" cy="879.3" r="2.2"/><circle cx="352.1" cy="906.9" r="2.2"/><circle cx="354.6" cy="911.7" r="2.2"/><circle cx="356.3" cy="912.8" r="2.2"/><circle cx="373.8" cy="922.8" r="2.2"/><circle cx="382.8" cy="926" r="2.2"/><circle cx="383.4" cy="929.5" r="2.2"/><circle cx="384.5" cy="930.5" r="2.2"/><circle cx="396.6" cy="933.9" r="2.2"/><circle cx="402.7" cy="937.2" r="2.2"/><circle cx="422.5" cy="941" r="2.2"/><circle cx="427.3" cy="942.5" r="2.2"/><circle cx="436.9" cy="944.3" r="2.2"/></g><g fill="#A0CF4D"><circle cx="345.6" cy="830.7" r="2.2"/><circle cx="348.3" cy="831.5" r="2.2"/><circle cx="352.5" cy="843" r="2.2"/><circle cx="356.7" cy="848.3" r="2.2"/><circle cx="357.7" cy="850" r="2.2"/><circle cx="360.2" cy="862.1" r="2.2"/><circle cx="361.5" cy="881.8" r="2.2"/><circle cx="361.9" cy="890.8" r="2.2"/><circle cx="362.5" cy="893.5" r="2.2"/><circle cx="365.7" cy="899.6" r="2.2"/><circle cx="370.9" cy="904.4" r="2.2"/><circle cx="380.3" cy="919" r="2.2"/><circle cx="390.8" cy="927.4" r="2.2"/><circle cx="412.1" cy="929.5" r="2.2"/><circle cx="421.5" cy="933.3" r="2.2"/><circle cx="430.9" cy="938.5" r="2.2"/><circle cx="438" cy="939.5" r="2.2"/><circle cx="466.9" cy="941.2" r="2.2"/></g><g fill="#E9A6F3"><circle cx="344.1" cy="826.5" r="2.2"/><circle cx="352.5" cy="831.5" r="2.2"/><circle cx="355.2" cy="832.8" r="2.2"/><circle cx="357.1" cy="833.9" r="2.2"/><circle cx="366.1" cy="851.6" r="2.2"/><circle cx="367.8" cy="854.1" r="2.2"/><circle cx="370.3" cy="855.2" r="2.2"/><circle cx="372.4" cy="855.8" r="2.2"/><circle cx="380.7" cy="858.9" r="2.2"/><circle cx="396" cy="864.2" r="2.2"/><circle cx="400.2" cy="869.8" r="2.2"/><circle cx="402.7" cy="873.4" r="2.2"/><circle cx="403.7" cy="875.8" r="2.2"/><circle cx="404.8" cy="877.6" r="2.2"/><circle cx="411.7" cy="893.5" r="2.2"/><circle cx="418.4" cy="905" r="2.2"/><circle cx="425.7" cy="911.7" r="2.2"/><circle cx="427.8" cy="914.9" r="2.2"/><circle cx="429.9" cy="915.9" r="2.2"/><circle cx="439" cy="916.9" r="2.2"/></g><g fill="#A8AAF6"><circle cx="378" cy="800.2" r="2.2"/><circle cx="387" cy="804.6" r="2.2"/><circle cx="405.4" cy="825.9" r="2.2"/><circle cx="412.1" cy="830.1" r="2.2"/><circle cx="414.6" cy="830.1" r="2.2"/><circle cx="447.5" cy="842.5" r="2.2"/><circle cx="463.1" cy="851.6" r="2.2"/><circle cx="468.5" cy="861.5" r="2.2"/><circle cx="473.2" cy="863.2" r="2.2"/><circle cx="475.9" cy="864.9" r="2.2"/><circle cx="480.1" cy="877.9" r="2.2"/><circle cx="484.4" cy="885.7" r="2.2"/><circle cx="488" cy="886.1" r="2.2"/><circle cx="491.1" cy="887.2" r="2.2"/><circle cx="502.7" cy="888.5" r="2.2"/><circle cx="508" cy="894.1" r="2.2"/><circle cx="510.7" cy="898.4" r="2.2"/><circle cx="513.9" cy="901.1" r="2.2"/><circle cx="516.4" cy="902" r="2.2"/><circle cx="519.2" cy="902.6" r="2.2"/></g><g fill="#62C4A6"><circle cx="421.9" cy="790.4" r="2.2"/><circle cx="423" cy="792.9" r="2.2"/><circle cx="428.8" cy="793.9" r="2.2"/><circle cx="441.5" cy="818.9" r="2.2"/><circle cx="448.3" cy="820.6" r="2.2"/><circle cx="451" cy="830.9" r="2.2"/><circle cx="458" cy="833.7" r="2.2"/><circle cx="463.1" cy="833.7" r="2.2"/><circle cx="471.1" cy="850.6" r="2.2"/><circle cx="478.5" cy="860.7" r="2.2"/><circle cx="480.6" cy="869.1" r="2.2"/><circle cx="483.3" cy="876.6" r="2.2"/><circle cx="487.5" cy="885.7" r="2.2"/><circle cx="494.9" cy="886.8" r="2.2"/><circle cx="502.3" cy="889.9" r="2.2"/><circle cx="504.4" cy="892" r="2.2"/><circle cx="515.4" cy="895.2" r="2.2"/><circle cx="517.9" cy="897.3" r="2.2"/><circle cx="523.8" cy="900.5" r="2.2"/><circle cx="527" cy="900.9" r="2.2"/></g><g fill="#F79F59"><circle cx="421.1" cy="830.7" r="2.2"/><circle cx="423.2" cy="830.7" r="2.2"/><circle cx="430.3" cy="850.4" r="2.2"/><circle cx="431.6" cy="850.6" r="2.2"/><circle cx="435.2" cy="850.6" r="2.2"/><circle cx="436.9" cy="852.7" r="2.2"/><circle cx="439.4" cy="853.7" r="2.2"/><circle cx="443.7" cy="866.8" r="2.2"/><circle cx="446.4" cy="875.8" r="2.2"/><circle cx="447.5" cy="878.3" r="2.2"/><circle cx="454.2" cy="885.7" r="2.2"/><circle cx="463.7" cy="888.2" r="2.2"/><circle cx="470.4" cy="889.9" r="2.2"/><circle cx="472.6" cy="890.6" r="2.2"/><circle cx="474.7" cy="891.4" r="2.2"/><circle cx="476.3" cy="892" r="2.2"/><circle cx="481.2" cy="897.3" r="2.2"/><circle cx="486.9" cy="901.5" r="2.2"/><circle cx="493.6" cy="903.6" r="2.2"/><circle cx="500.2" cy="906.8" r="2.2"/><circle cx="504.8" cy="911" r="2.2"/><circle cx="506.9" cy="911.4" r="2.2"/><circle cx="508" cy="916.9" r="2.2"/><circle cx="516" cy="917.8" r="2.2"/></g><rect x="318.6" y="782.5" width="227.4" height="181.8" fill="none" stroke="#454545" stroke-width="1.1"/><path d="M334 964.3v3M356.31 964.3v3M378.62 964.3v3M400.93 964.3v3M423.24 964.3v3M445.55 964.3v3M467.86 964.3v3M490.17 964.3v3M512.48 964.3v3M534.79 964.3v3M318.6 952.9h-3M318.6 933.9h-3M318.6 914.9h-3M318.6 895.9h-3M318.6 876.9h-3M318.6 857.9h-3M318.6 838.9h-3M318.6 819.9h-3M318.6 800.9h-3" stroke="#454545" stroke-width="1"/><g font-size="8.2" text-anchor="middle"><text x="334" y="977.4">420</text><text x="356.31" y="977.4">430</text><text x="378.62" y="977.4">440</text><text x="400.93" y="977.4">450</text><text x="423.24" y="977.4">460</text><text x="445.55" y="977.4">470</text><text x="467.86" y="977.4">480</text><text x="490.17" y="977.4">490</text><text x="512.48" y="977.4">500</text><text x="534.79" y="977.4">510</text><text x="312.3" y="955.8" text-anchor="end">45</text><text x="312.3" y="936.8" text-anchor="end">50</text><text x="312.3" y="917.8" text-anchor="end">55</text><text x="312.3" y="898.8" text-anchor="end">60</text><text x="312.3" y="879.8" text-anchor="end">65</text><text x="312.3" y="860.8" text-anchor="end">70</text><text x="312.3" y="841.8" text-anchor="end">75</text><text x="312.3" y="822.8" text-anchor="end">80</text><text x="312.3" y="803.8" text-anchor="end">85</text></g><text x="432.3" y="992.7" font-size="8.5" text-anchor="middle">f2</text><text transform="translate(297.5 873.2) rotate(-90)" x="0" y="3" font-size="8.5" text-anchor="middle">f1</text><text class="tt" x="428" y="1017.8" font-size="12" text-anchor="middle">50-scale test case 2</text><circle cx="476.7" cy="786.8" r="2.3" fill="#F15C54"/><text class="lg" x="488.7" y="789.8" font-size="9.1" textLength="36.89" lengthAdjust="spacingAndGlyphs">DRL-SOA</text><circle cx="476.7" cy="797.34" r="2.3" fill="#A0CF4D"/><text class="lg" x="488.7" y="800.34" font-size="9.1" textLength="56.22" lengthAdjust="spacingAndGlyphs">INSGA-II-MTO</text><circle cx="476.7" cy="807.88" r="2.3" fill="#E9A6F3"/><text class="lg" x="488.7" y="810.88" font-size="9.1" textLength="33.44" lengthAdjust="spacingAndGlyphs">EMoSOA</text><circle cx="476.7" cy="818.42" r="2.3" fill="#A8AAF6"/><text class="lg" x="488.7" y="821.42" font-size="9.1" textLength="29.78" lengthAdjust="spacingAndGlyphs">AWPSO</text><circle cx="476.7" cy="828.96" r="2.3" fill="#62C4A6"/><text class="lg" x="488.7" y="831.96" font-size="9.1" textLength="29.26" lengthAdjust="spacingAndGlyphs">MOSOS</text><circle cx="476.7" cy="839.5" r="2.3" fill="#F79F59"/><text class="lg" x="488.7" y="842.5" font-size="9.1" textLength="37.62" lengthAdjust="spacingAndGlyphs">LeCMPSO</text></g>
</svg>
</body></html>
